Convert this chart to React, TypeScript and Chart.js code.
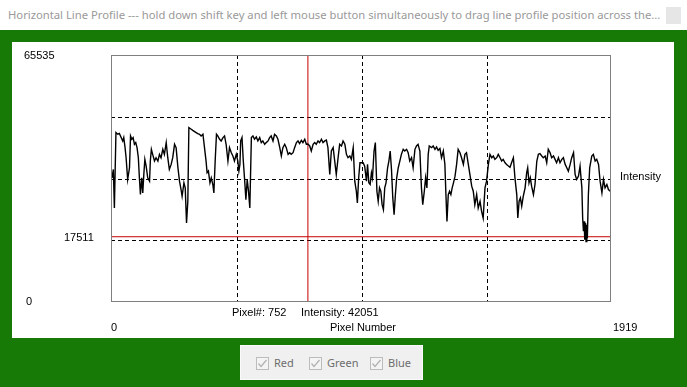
import React, { useEffect, useRef } from 'react';
import Chart from 'chart.js/auto';

const titleText =
  'Horizontal Line Profile --- hold down shift key and left mouse button simultaneously to drag line profile position across the...';

const pixelNumbers = [
  0, 5, 9, 15, 22, 28, 35, 41, 45, 50,
  54, 60, 67, 71, 76, 81, 86, 91, 96, 101,
  105, 109, 114, 118, 122, 126, 131, 137, 144, 147,
  151, 156, 163, 169, 176, 182, 188, 195, 201, 208,
  214, 220, 227, 233, 240, 246, 253, 259, 265, 269,
  276, 281, 286, 291, 295, 304, 310, 317, 323, 329,
  336, 342, 349, 355, 361, 365, 370, 376, 381, 387,
  391, 396, 401, 406, 413, 419, 426, 432, 438, 445,
  451, 458, 464, 470, 477, 483, 487, 491, 494, 499,
  504, 509, 514, 519, 524, 529, 535, 541, 547, 554,
  560, 567, 573, 579, 586, 592, 599, 605, 611, 618,
  624, 631, 637, 644, 650, 656, 663, 669, 676, 682,
  688, 695, 701, 708, 714, 720, 727, 733, 740, 746,
  752, 759, 765, 772, 778, 784, 791, 797, 804, 810,
  817, 823, 829, 836, 842, 849, 855, 861, 868, 874,
  881, 887, 894, 900, 906, 913, 919, 926, 932, 938,
  942, 947, 952, 958,
  964, 970, 977, 981, 986, 991, 996, 1000, 1006, 1011,
  1017, 1022, 1027, 1032, 1037, 1042, 1047, 1052, 1058, 1063,
  1068, 1073, 1078, 1083, 1088, 1093, 1099, 1105, 1111, 1118,
  1124, 1131, 1137, 1143, 1150, 1156, 1163, 1169, 1175, 1182,
  1188, 1193, 1199, 1204, 1209, 1214, 1218, 1227, 1233, 1240,
  1246, 1252, 1259, 1265, 1272, 1278, 1282, 1286, 1291, 1296,
  1301, 1306, 1311, 1317, 1323, 1329, 1336, 1342, 1349, 1355,
  1361, 1368, 1374, 1381, 1387, 1393, 1400, 1406, 1413, 1419,
  1425, 1432, 1438, 1445, 1451, 1458, 1464, 1470, 1477, 1483,
  1490, 1496, 1502, 1509, 1515, 1522, 1528, 1534, 1541, 1547,
  1554, 1558, 1563, 1568, 1573, 1579, 1586, 1592, 1596, 1601,
  1606, 1611, 1618, 1624, 1631, 1637, 1643, 1650, 1656, 1663,
  1669, 1675, 1682, 1688, 1695, 1701, 1707, 1714, 1720, 1727,
  1733, 1740, 1746, 1752, 1759, 1765, 1772, 1778, 1784, 1791,
  1797, 1804, 1807, 1810, 1813, 1815, 1818, 1820, 1823, 1825,
  1829, 1834, 1842, 1848, 1855, 1861, 1868, 1874, 1881, 1887,
  1893, 1900, 1906, 1913, 1919,
];

const intensities = [
  33100, 35343, 25130, 45110, 44667, 44850, 43779, 42890, 43779, 41114,
  38450, 32679, 35786, 44222, 43335, 43779, 42003, 42447, 41114, 38450,
  33122, 28683, 33122, 29126, 34011, 38007, 36230, 33122, 32234, 37562,
  40671, 39339, 37562, 38450, 37562, 39339, 38450, 40671, 39339, 42447,
  38450, 35343, 36675, 38450, 42003, 41114, 35786, 32234, 30015, 28238,
  31790, 30458, 21134, 26906, 46443, 46000, 45700, 45377, 45110, 44850,
  44667, 44222, 44667, 41114, 37562, 34454, 34898, 31790, 33122, 31347,
  29126, 37562, 44667, 44222, 43335, 42890, 43779, 44222, 42003, 37562,
  41114, 39782, 38894, 37562, 39339, 37562, 34898, 36675, 42890, 43779,
  37562, 32679, 27351, 32679, 29570, 25130, 43779, 44222, 43335, 43950,
  42890, 43779, 42447, 42890, 42003, 42447, 42890, 43779, 44222, 42890,
  44667, 44222, 43335, 41114, 38894, 41114, 42003, 41114, 39339, 39782,
  39339, 39782, 41114, 42447, 42890, 42180, 43060, 42447, 43335, 42003,
  42051, 41558, 40226, 42003, 42447, 42003, 42890, 42447, 43335, 42447,
  42890, 43100, 41114, 34011, 40226, 41114, 37562, 34011, 38450, 42003,
  41558, 42890, 42003, 39339, 38450, 38894, 38007, 41114, 32234, 29570,
  26462, 33122, 37118, 37118,
  37118, 36230, 32234, 36675, 31790, 31347, 34454, 33122, 40226, 42447,
  29570, 26906, 30458, 29570, 26019, 24687, 30458, 31790, 35786, 37562,
  40226, 35343, 27794, 23355, 28683, 33122, 35786, 37562, 39339, 40671,
  40226, 40671, 39782, 37562, 38450, 35786, 40671, 41558, 42003, 40226,
  30458, 26019, 29570, 33122, 30458, 39339, 41558, 41114, 41558, 40671,
  41300, 40400, 40900, 38450, 40226, 36675, 28683, 21578, 28683, 29570,
  28683, 30458, 31790, 33566, 36675, 40671, 39782, 38450, 36675, 39339,
  39782, 36675, 34011, 30902, 29570, 26019, 28683, 25130, 26906, 24242,
  22466, 30458, 32234, 36675, 39339, 38450, 38894, 38007, 38450, 39339,
  38450, 37562, 38007, 37118, 36675, 36230, 35900, 37118, 38450, 33122,
  28683, 22466, 26906, 27794, 25574, 28238, 30458, 34454, 35786, 31790,
  33122, 30902, 28683, 31347, 37562, 39339, 39520, 38894, 38450, 38894,
  37118, 40671, 39782, 38450, 38894, 38007, 37118, 38450, 37118, 38007,
  38450, 36675, 35786, 34898, 36675, 38450, 39782, 34011, 32679, 33566,
  36230, 30458, 22466, 19000, 21578, 16700, 21134, 16250, 20691, 17100,
  28683, 35786, 38894, 39339, 37562, 38007, 36675, 32234, 29126, 32679,
  30458, 31347, 30015, 29570, 27351,
];

const cursorPixel = 752;
const cursorIntensity = 42051;
const levelMarker = 17511;
const maxIntensity = 65535;
const lastPixel = 1919;
const xGridValues = [480, 960, 1440];
const yGridValues = [16384, 32768, 49152];
const channelNames = ['Red', 'Green', 'Blue'];

const framePlugin = {
  id: 'plotFrame',
  afterDraw(chart: any) {
    const { ctx, chartArea: a } = chart;
    ctx.save();
    ctx.strokeStyle = '#7f7f7f';
    ctx.lineWidth = 1;
    const l = Math.round(a.left) + 0.5;
    const t = Math.round(a.top) + 0.5;
    const r = Math.round(a.right) + 0.5;
    const b = Math.round(a.bottom) + 0.5;
    ctx.strokeRect(l, t, r - l, b - t);
    ctx.restore();
  },
};

const labelBase: React.CSSProperties = {
  position: 'absolute',
  fontFamily: '"Liberation Sans", Arial, sans-serif',
  fontSize: 11,
  lineHeight: '13px',
  color: '#000',
  whiteSpace: 'nowrap',
};

function CheckItem({ label, left, textLeft }: { label: string; left: number; textLeft: number }) {
  return (
    <>
      <div
        style={{
          position: 'absolute',
          left,
          top: 11,
          width: 11,
          height: 11,
          border: '1px solid #bcbcbc',
          background: '#f4f4f4',
        }}
      >
        <svg width={11} height={11} style={{ position: 'absolute', left: 0, top: 0 }}>
          <polyline points="1.5,5.5 4,8.5 9.5,2" fill="none" stroke="#b0b0b0" strokeWidth={1.2} />
        </svg>
      </div>
      <span
        style={{
          position: 'absolute',
          left: textLeft,
          top: 9,
          fontFamily: '"Noto Sans", "Open Sans", sans-serif',
          fontSize: 11,
          lineHeight: '16px',
          color: '#6d6d6d',
          whiteSpace: 'nowrap',
        }}
      >
        {label}
      </span>
    </>
  );
}

export default function App() {
  const canvasRef = useRef<HTMLCanvasElement | null>(null);

  useEffect(() => {
    if (!canvasRef.current) return;
    const profile = pixelNumbers.map((p, i) => ({ x: p, y: intensities[i] }));
    const chart = new Chart(canvasRef.current, {
      type: 'line',
      data: {
        datasets: [
          {
            data: profile,
            borderColor: '#000000',
            borderWidth: 1.4,
            pointRadius: 0,
            tension: 0,
            clip: 0,
          },
          {
            data: [
              { x: cursorPixel, y: 0 },
              { x: cursorPixel, y: maxIntensity + 1000 },
            ],
            borderColor: '#c80000',
            borderWidth: 1,
            pointRadius: 0,
            clip: 0,
          },
          {
            data: [
              { x: -100, y: levelMarker },
              { x: lastPixel + 100, y: levelMarker },
            ],
            borderColor: '#c80000',
            borderWidth: 1,
            pointRadius: 0,
            clip: 0,
          },
        ],
      },
      options: {
        animation: false,
        responsive: false,
        devicePixelRatio: 1,
        events: [],
        layout: { padding: { left: 99, right: 64, top: 13, bottom: 37 } },
        plugins: { legend: { display: false }, tooltip: { enabled: false } },
        scales: {
          x: {
            type: 'linear',
            min: -4,
            max: 1912,
            afterBuildTicks: (s: any) => {
              s.ticks = xGridValues.map((v) => ({ value: v }));
            },
            ticks: { display: false },
            grid: { drawTicks: false, color: '#000000', lineWidth: 1 },
            border: { display: false, dash: [4, 3] },
          },
          y: {
            type: 'linear',
            min: 490,
            max: 65655,
            afterBuildTicks: (s: any) => {
              s.ticks = yGridValues.map((v) => ({ value: v }));
            },
            ticks: { display: false },
            grid: { drawTicks: false, color: '#000000', lineWidth: 1 },
            border: { display: false, dash: [4, 3] },
          },
        },
      } as any,
      plugins: [framePlugin],
    });
    return () => chart.destroy();
  }, []);

  return (
    <div
      style={{
        position: 'fixed',
        left: 0,
        top: 0,
        width: 687,
        height: 387,
        background: '#187a06',
        overflow: 'hidden',
      }}
    >
      <div style={{ position: 'absolute', left: 0, top: 0, width: 687, height: 30, background: '#ffffff' }}>
        <span
          style={{
            position: 'absolute',
            left: 8,
            top: 6,
            fontFamily: '"Noto Sans", "Open Sans", sans-serif',
            fontSize: 11.25,
            lineHeight: '18px',
            color: '#999999',
            whiteSpace: 'nowrap',
          }}
        >
          {titleText}
        </span>
        <div style={{ position: 'absolute', left: 666, top: 7, width: 15, height: 17, background: '#e6e6e6' }} />
      </div>

      <div style={{ position: 'absolute', left: 12, top: 42, width: 662, height: 296, background: '#ffffff' }}>
        <canvas ref={canvasRef} width={662} height={296} style={{ display: 'block', width: 662, height: 296 }} />
        <span style={{ ...labelBase, left: 12, top: 7 }}>{String(maxIntensity)}</span>
        <span style={{ ...labelBase, left: 14, top: 253 }}>0</span>
        <span style={{ ...labelBase, left: 52, top: 189 }}>{String(levelMarker)}</span>
        <span style={{ ...labelBase, left: 99, top: 279 }}>0</span>
        <span style={{ ...labelBase, left: 601, top: 279 }}>{String(lastPixel)}</span>
        <span style={{ ...labelBase, left: 318, top: 279 }}>Pixel Number</span>
        <span style={{ ...labelBase, left: 220, top: 264 }}>Pixel#: {cursorPixel}</span>
        <span style={{ ...labelBase, left: 289, top: 264 }}>Intensity: {cursorIntensity}</span>
        <span style={{ ...labelBase, left: 608, top: 128 }}>Intensity</span>
      </div>

      <div
        style={{
          position: 'absolute',
          left: 240,
          top: 345,
          width: 181,
          height: 33,
          background: '#f0f0f0',
          border: '1px solid #fafafa',
        }}
      >
        <CheckItem label={channelNames[0]} left={15} textLeft={33} />
        <CheckItem label={channelNames[1]} left={68} textLeft={86} />
        <CheckItem label={channelNames[2]} left={129} textLeft={147} />
      </div>
    </div>
  );
}
